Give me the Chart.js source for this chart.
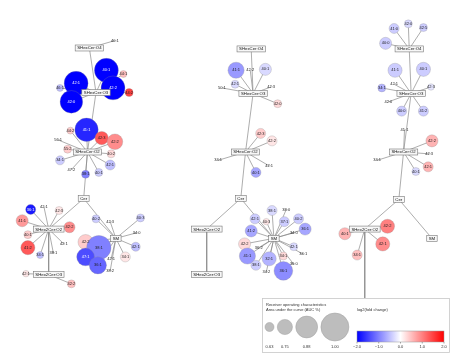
<!DOCTYPE html>
<html><head><meta charset="utf-8">
<script src="https://cdn.jsdelivr.net/npm/chart.js@4"></script>
<style>html,body{margin:0;padding:0;background:#fff}canvas{display:block}</style>
</head><body>
<canvas id="c" width="474" height="356"></canvas>
<script>
// ---- hub (lipid class) nodes ----
const hubNames = ['SHexCer:O4','SHexCer:O3','SHexCer:O2','Cer','SHex2Cer:O2','SHex2Cer:O3','SM',
                  'SHexCer:O4','SHexCer:O3','SHexCer:O2','Cer','SHex2Cer:O2','SHex2Cer:O3','SM',
                  'SHexCer:O4','SHexCer:O3','SHexCer:O2','Cer','SHex2Cer:O2','SM','SHex2Cer:O3'];
const hubX = [81,88,79,75,38,38,109,  252,254,246,241,205,205,276,  419,421,413,408,372,443,372];
const hubY = [38,86,150,200,233,282,243,  39,87,150,200,233,282,243,  39,87,150,201,233,243,318];
const hubLinks = [[0,1],[1,2],[2,3],[3,4],[4,5],[3,6],
                  [7,8],[8,9],[9,10],[10,11],[11,12],[10,13],
                  [14,15],[15,16],[16,17],[17,18],[17,19],[18,20]];

// ---- species nodes ----
const nodeLabels = [
 '40:1',
 '42:1','42:0','40:1','42:2','46:1','44:1','44:2',
 '41:1','42:3','42:2','44:2','56:1','55:2','40:2','34:1','42:1','47:2','40:1','38:1',
 '36:1','41:1','40:1','41:2','42:1','42:3','42:2','42:1','38:1','34:1',
 '42:1','42:2',
 '40:2','42:3','40:3','34:0','42:1','34:1','42:2','38:1','47:1','36:1','42:1','38:2',
 '41:1','42:2','40:1','42:1','50:1','42:3','42:0',
 '42:3','42:2','34:1','42:1','40:1',
 '38:1','38:0','42:1','40:3','37:1','40:2','41:2','34:0','36:1','42:2','42:1','36:2','34:1','41:1','32:1','34:1','38:1','36:0','34:2','36:1',
 '41:0','42:0','42:5','40:0',
 '41:1','40:1','42:1','34:1','42:3','42:0','40:0','41:2',
 '41:1','42:2','42:3','34:1','42:1','40:1',
 '42:2','40:1','42:1','34:1'
];
const nodeHub = [
 0,
 1,1,1,1,1,1,1,
 2,2,2,2,2,2,2,2,2,2,2,2,
 4,4,4,4,4,4,4,4,4,4,
 5,5,
 6,6,6,6,6,6,6,6,6,6,6,6,
 8,8,8,8,8,8,8,
 9,9,9,9,9,
 13,13,13,13,13,13,13,13,13,13,13,13,13,13,13,13,13,13,13,13,
 14,14,14,14,
 15,15,15,15,15,15,15,15,
 16,16,16,16,16,16,
 18,18,18,18
];
const nodeX = [
 108,
 67,62,99,106,50,117,123,
 78,94,108,61,48,58,104,50,103,62,91,77,
 19,10,16,16,33,49,60,54,43,29,
 14,62,
 88,103,135,131,130,119,77,91,77,90,104,103,
 236,251,267,235,221,273,280,
 262,274,217,271,257,
 274,289,256,268,287,302,252,297,309,245,297,260,307,248,271,286,257,297,268,286,
 403,418,434,394,
 404,434,403,390,442,397,411,434,
 414,443,440,385,439,426,
 396,351,391,364
];
const nodeY = [
 30,
 76,96,62,81,81,66,86,
 126,135,139,127,137,147,152,159,164,169,172,174,
 212,224,239,253,209,213,231,249,259,261,
 281,292,
 222,225,221,237,252,263,247,253,263,272,265,278,
 62,62,61,77,81,80,98,
 130,138,159,165,172,
 213,212,222,225,225,222,235,237,233,249,252,253,260,262,265,262,272,271,279,278,
 17,12,16,33,
 62,61,77,81,80,96,106,106,
 126,138,152,159,166,171,
 230,238,249,261
];
// Area under ROC curve (null = not shown as a circle)
const nodeAUC = [
 null,
 0.92,0.895,0.92,0.92,0.59,0.59,0.61,
 0.91,0.715,0.76,0.59,null,0.61,0.61,0.63,0.65,null,0.61,0.61,
 0.65,0.69,0.61,0.73,null,0.61,0.67,null,null,0.59,
 0.58,0.61,
 0.61,null,0.61,null,0.63,0.65,0.75,0.93,0.80,0.79,null,null,
 0.77,null,0.69,0.61,null,null,0.61,
 0.65,0.65,null,null,0.65,
 0.65,null,0.65,0.58,0.65,0.65,0.69,null,0.69,0.69,0.61,null,null,0.77,0.73,0.61,0.65,null,null,0.82,
 0.65,0.61,0.61,0.69,
 0.73,0.73,null,0.61,0.58,null,0.65,0.65,
 null,0.69,null,null,0.65,0.61,
 0.73,0.69,0.73,0.65
];
// log2 fold change
const nodeFC = [
 0,
 -2.2,-2.2,-2.2,-2.2,-0.5,0.5,1.5,
 -1.7,1.3,0.9,0.4,0,0.4,0.3,-0.4,-0.5,0,-0.4,-1.0,
 -1.8,0.8,0.4,1.3,0,0.2,0.9,0,0,-0.5,
 0.2,0.5,
 -0.4,0,-0.4,0,-0.5,0.2,0.4,-1.0,-1.4,-1.2,0,0,
 -0.8,0,-0.3,-0.3,0,0,0.3,
 0.4,0.2,0,0,-0.7,
 -0.3,0,-0.4,0.2,-0.4,-0.4,-0.7,0,-0.7,0.3,-0.3,0,0,-0.8,-0.6,0.3,-0.4,0,0,-0.9,
 -0.4,-0.3,-0.4,-0.4,
 -0.4,-0.4,0,-0.6,-0.2,0,-0.4,-0.4,
 0,0.6,0,0,0.6,-0.3,
 1.0,0.6,0.9,0.5
];

// ---- legend ----
const legendAUC = [0.63, 0.75, 0.88, 1.00];
const legendAUCLabels = ['0.63','0.75','0.88','1.00'];
const fcTicks = [-2, -1, 0, 1, 2];
const fcTickLabels = ['\u22122.0','\u22121.0','0.0','1.0','2.0'];

// ---- helpers ----
const R_MIN = 4.5, R_MAX = 14;
function aucRadius(a){ return R_MIN + (a - legendAUC[0]) * (R_MAX - R_MIN) / (legendAUC[legendAUC.length-1] - legendAUC[0]); }
function fcColor(v){
  const t = Math.max(-2, Math.min(2, v)) / 2;
  if (t < 0){ const k = Math.round((1 + t) * 255); return `rgb(${k},${k},255)`; }
  const k = Math.round((1 - t) * 255); return `rgb(255,${k},${k})`;
}
const FONT = '"Liberation Sans", Arial, sans-serif';

// edges
const edgeDatasets = [];
hubLinks.forEach(([a,b]) => edgeDatasets.push({type:'line', data:[{x:hubX[a],y:hubY[a]},{x:hubX[b],y:hubY[b]}],
  borderColor:'#8a8a8a', borderWidth:0.7, pointRadius:0, order:2, showLine:true}));
nodeLabels.forEach((l,i) => { const h = nodeHub[i]; edgeDatasets.push({type:'line',
  data:[{x:hubX[h],y:hubY[h]},{x:nodeX[i],y:nodeY[i]}], borderColor:'#8a8a8a', borderWidth:0.7, pointRadius:0, order:2, showLine:true}); });

const nodeData = nodeLabels.map((l,i) => ({x:nodeX[i], y:nodeY[i]}));

const labelPlugin = {
  id:'labels',
  afterDatasetsDraw(chart){
    const ctx = chart.ctx, xs = chart.scales.x, ys = chart.scales.y;
    ctx.save();
    ctx.textAlign = 'center'; ctx.textBaseline = 'middle';
    ctx.font = '4px ' + FONT;
    nodeLabels.forEach((lab,i) => {
      const px = xs.getPixelForValue(nodeX[i]), py = ys.getPixelForValue(nodeY[i]);
      ctx.fillStyle = (nodeAUC[i] !== null && nodeFC[i] < -1.2) ? '#ffffff' : '#222';
      ctx.fillText(lab, px, py);
    });
    ctx.font = '4.3px ' + FONT;
    hubNames.forEach((n,i) => {
      const px = xs.getPixelForValue(hubX[i]), py = ys.getPixelForValue(hubY[i]);
      const w = ctx.measureText(n).width + 4, h = 6;
      ctx.fillStyle = '#f7f7f7'; ctx.fillRect(px - w/2, py - h/2, w, h);
      ctx.strokeStyle = '#777'; ctx.lineWidth = 0.6; ctx.strokeRect(px - w/2, py - h/2, w, h);
      ctx.fillStyle = '#111'; ctx.fillText(n, px, py + 0.3);
    });
    ctx.restore();
  },
  afterDraw(chart){
    const ctx = chart.ctx;
    ctx.save();
    // legend frame
    const bx = 262, by = 298, bw = 187, bh = 54;
    ctx.fillStyle = '#fff'; ctx.fillRect(bx, by, bw, bh);
    ctx.strokeStyle = '#c8c8c8'; ctx.lineWidth = 0.8; ctx.strokeRect(bx + 0.5, by + 0.5, bw, bh);
    ctx.fillStyle = '#333'; ctx.font = '4px ' + FONT; ctx.textAlign = 'left'; ctx.textBaseline = 'middle';
    ctx.fillText('Receiver operating characteristics', 266, 305);
    ctx.fillText('Area under the curve (AUC %)', 266, 310);
    ctx.fillText('log2(fold change)', 357, 310);
    // size legend
    let cx = 265;
    legendAUC.forEach((a,i) => {
      const r = aucRadius(a);
      cx += r;
      ctx.beginPath(); ctx.arc(cx, 327, r, 0, Math.PI*2);
      ctx.fillStyle = '#bdbdbd'; ctx.fill();
      ctx.strokeStyle = '#a0a0a0'; ctx.lineWidth = 0.5; ctx.stroke();
      ctx.fillStyle = '#333'; ctx.textAlign = 'center';
      ctx.fillText(legendAUCLabels[i], cx, 347);
      cx += r + 3.3;
    });
    // colour bar
    const x0 = 357, x1 = 444, y0 = 331, y1 = 342;
    const g = ctx.createLinearGradient(x0, 0, x1, 0);
    for (let k = 0; k <= 16; k++){ const v = -2 + k * 0.25; g.addColorStop(k/16, fcColor(v)); }
    ctx.fillStyle = g; ctx.fillRect(x0, y0, x1 - x0, y1 - y0);
    ctx.strokeStyle = '#999'; ctx.lineWidth = 0.5; ctx.strokeRect(x0, y0, x1 - x0, y1 - y0);
    fcTicks.forEach((t,i) => {
      const px = x0 + (t - fcTicks[0]) / (fcTicks[fcTicks.length-1] - fcTicks[0]) * (x1 - x0);
      ctx.beginPath(); ctx.moveTo(px, y1); ctx.lineTo(px, y1 + 1.5); ctx.strokeStyle = '#555'; ctx.stroke();
      ctx.fillStyle = '#333'; ctx.textAlign = 'center'; ctx.fillText(fcTickLabels[i], px, 347);
    });
    ctx.restore();
  }
};

new Chart(document.getElementById('c'), {
  type: 'scatter',
  data: { datasets: [
    { data: nodeData, order: 1,
      pointRadius: c => { const a = nodeAUC[c.dataIndex]; return a === null ? 0 : aucRadius(a); },
      pointBackgroundColor: c => fcColor(nodeFC[c.dataIndex]),
      pointBorderColor: 'rgba(140,140,140,0.55)', pointBorderWidth: 0.5, pointHoverRadius: 0 },
    ...edgeDatasets
  ]},
  options: {
    responsive: false, animation: false, events: [],
    layout: { padding: 0 },
    plugins: { legend: { display: false }, tooltip: { enabled: false } },
    scales: {
      x: { type: 'linear', min: 0, max: 474, display: false },
      y: { type: 'linear', min: 0, max: 356, reverse: true, display: false }
    }
  },
  plugins: [labelPlugin]
});
</script>
</body></html>
